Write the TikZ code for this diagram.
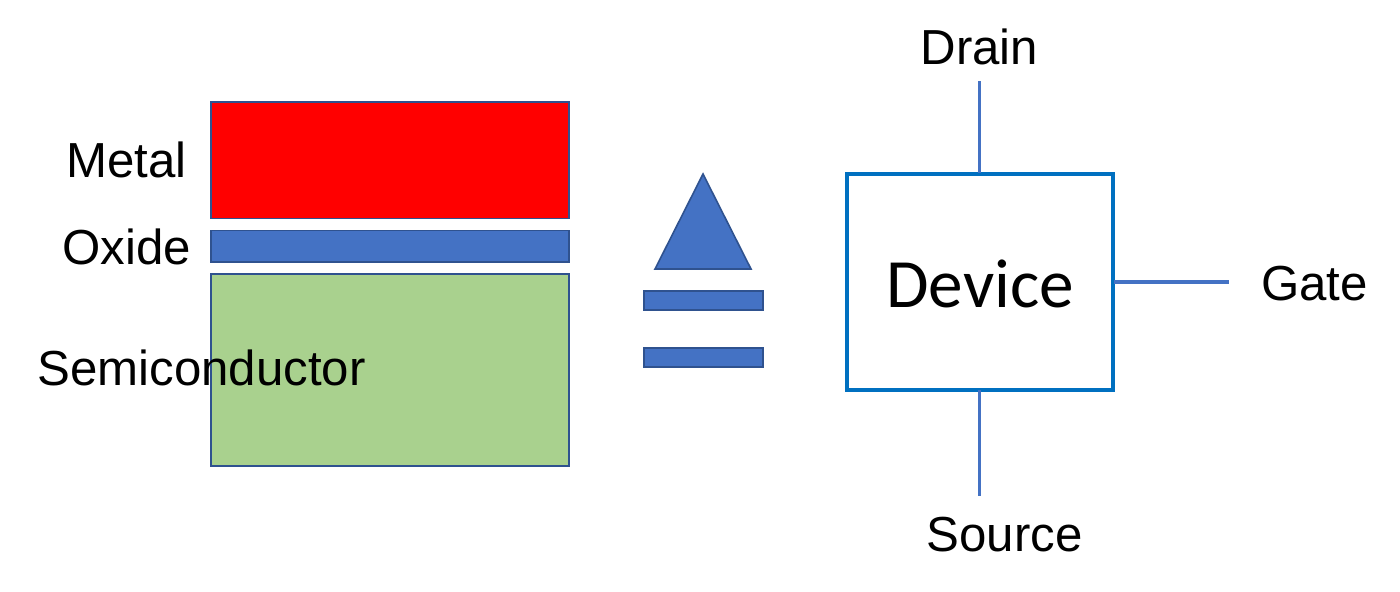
\documentclass[tikz,border=0pt]{standalone}
\usepackage{fontspec}
\setmainfont{Liberation Sans}
\newfontfamily\devfont{Carlito}
\definecolor{edgeblue}{HTML}{2F528F}
\definecolor{fillblue}{HTML}{4472C4}
\definecolor{fillgreen}{HTML}{A9D18E}
\definecolor{boxblue}{HTML}{0070C0}
\tikzset{
  layer/.style={draw=edgeblue,line width=0.8pt,inner sep=0pt,outer sep=0pt,rectangle,anchor=north west},
  lbl/.style={inner sep=0pt,outer sep=0pt,font=\fontsize{24.6}{27}\selectfont,text=black,anchor=base},
  wire/.style={draw=fillblue,line width=1.9pt},
}
\begin{document}
\begin{tikzpicture}[x=0.5pt,y=-0.5pt]
\useasboundingbox (0,0) rectangle (1400,591);
\node[layer,fill=red,minimum width=179pt,minimum height=58.2pt] (metal) at (211,102) {};
\node[layer,fill=fillblue,minimum width=179pt,minimum height=15.8pt] (oxide) at (211,230.5) {};
\node[layer,fill=fillgreen,minimum width=179pt,minimum height=96pt] (semi) at (211,274) {};
\node[lbl] (tm) at (126.5,177) {Metal};
\node[lbl] (to) at (126.5,264) {Oxide};
\node[lbl] (ts) at (201.5,385) {Semiconductor};
\draw[draw=edgeblue,line width=0.8pt,fill=fillblue,line join=miter] (703,174) -- (751,269) -- (655,269) -- cycle;
\node[layer,fill=fillblue,minimum width=59.5pt,minimum height=9.5pt] (bara) at (644,291) {};
\node[layer,fill=fillblue,minimum width=59.5pt,minimum height=9.5pt] (barb) at (644,348) {};
\node[draw=boxblue,line width=2pt,fill=white,rectangle,minimum width=132.75pt,minimum height=108.25pt,inner sep=0pt,outer sep=0pt,anchor=north west] (dev) at (847,173.5) {};
\node[inner sep=0pt,font=\devfont\fontsize{34.6}{38}\selectfont,anchor=base] (tdev) at (980,307) {Device};
\coordinate (dtop) at (979.5,81);
\coordinate (dtopb) at (979.5,173);
\coordinate (gr) at (1229,282);
\coordinate (gl) at (1114,282);
\coordinate (sb) at (979.5,496);
\coordinate (sbt) at (979.5,390);
\draw[wire] (dtop) -- (dtopb);
\draw[wire] (gl) -- (gr);
\draw[wire] (sbt) -- (sb);
\node[lbl] (td) at (979.5,64) {Drain};
\node[lbl] (tg) at (1314.5,300) {Gate};
\node[lbl] (tsrc) at (1004.5,551) {Source};
\end{tikzpicture}
\end{document}
